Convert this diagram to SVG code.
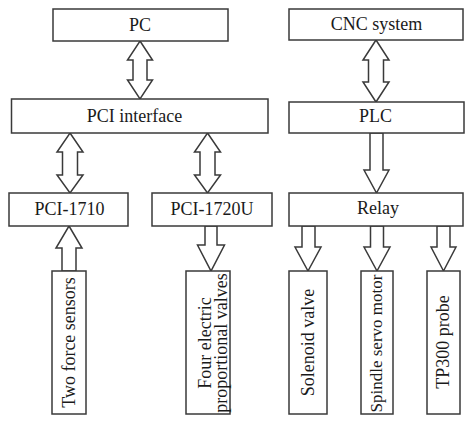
<svg xmlns="http://www.w3.org/2000/svg" width="474" height="424" viewBox="0 0 474 424">
<style>
.box{fill:#fff;stroke:#3a3a3a;stroke-width:1.5}
.arr{fill:#fff;stroke:#3a3a3a;stroke-width:1.5;stroke-linejoin:miter}
.t{font-family:"Liberation Serif","Times New Roman",serif;font-size:18px;fill:#1a1a1a;text-anchor:middle}
</style>
<rect width="474" height="424" fill="#fff"/>
<g id="connectors">
<path class="arr" d="M140,41 L152.5,60 L147,60 L147,80 L152.5,80 L140,99 L127.5,80 L133,80 L133,60 L127.5,60 Z"/>
<path class="arr" d="M376,40 L389,60 L383.5,60 L383.5,82 L389,82 L376,102 L363,82 L368.5,82 L368.5,60 L363,60 Z"/>
<path class="arr" d="M70,133 L83,152 L77.5,152 L77.5,175 L83,175 L70,193 L57,175 L62.5,175 L62.5,152 L57,152 Z"/>
<path class="arr" d="M207.5,133 L220.5,152 L215,152 L215,175 L220.5,175 L207.5,193 L194.5,175 L200,175 L200,152 L194.5,152 Z"/>
<path class="arr" d="M370,133 L383,133 L383,170 L389,170 L376.5,193 L364,170 L370,170 Z"/>
<path class="arr" d="M69,226 L82,248 L76,248 L76,271 L62,271 L62,248 L56,248 Z"/>
<path class="arr" d="M205,226 L217,226 L217,245 L224.5,245 L211,271 L197.5,245 L205,245 Z"/>
<path class="arr" d="M302,226 L315,226 L315,247 L321,247 L308,271 L295,247 L302,247 Z"/>
<path class="arr" d="M370.5,226 L383.5,226 L383.5,247 L390,247 L377,271 L364,247 L370.5,247 Z"/>
<path class="arr" d="M437,226 L450,226 L450,247 L456,247 L443.5,271 L431,247 L437,247 Z"/>
</g>
<g id="pc"><rect class="box" x="53" y="9" width="175" height="32"/><text class="t" x="140" y="31">PC</text></g>
<g id="cnc"><rect class="box" x="289" y="9" width="174" height="31"/><text class="t" x="376.5" y="30">CNC system</text></g>
<g id="pci"><rect class="box" x="11.5" y="99" width="256.5" height="34"/><text class="t" x="134.5" y="122">PCI interface</text></g>
<g id="plc"><rect class="box" x="289" y="102" width="175" height="31"/><text class="t" x="375.5" y="122">PLC</text></g>
<g id="pci1710"><rect class="box" x="9" y="193" width="119" height="33"/><text class="t" x="69.5" y="215">PCI-1710</text></g>
<g id="pci1720u"><rect class="box" x="152" y="193" width="120" height="33"/><text class="t" x="212" y="215">PCI-1720U</text></g>
<g id="relay"><rect class="box" x="289" y="193" width="174" height="33"/><text class="t" x="378" y="214">Relay</text></g>
<g id="sensors"><rect class="box" x="52" y="271" width="34" height="143"/><text class="t" transform="translate(75,342.5) rotate(-90)">Two force sensors</text></g>
<g id="valves"><rect class="box" x="186" y="271" width="44" height="143"/><text class="t" transform="translate(210.5,343) rotate(-90)"><tspan x="0" y="0">Four electric</tspan><tspan x="0" y="16">proportional valves</tspan></text></g>
<g id="solenoid"><rect class="box" x="289" y="271" width="38" height="143"/><text class="t" transform="translate(314,342.5) rotate(-90)">Solenoid valve</text></g>
<g id="spindle"><rect class="box" x="361" y="271" width="32" height="143"/><text class="t" style="font-size:17px" transform="translate(382,343.5) rotate(-90)">Spindle servo motor</text></g>
<g id="probe"><rect class="box" x="427" y="271" width="33" height="143"/><text class="t" transform="translate(448.5,342) rotate(-90)">TP300 probe</text></g>
</svg>
